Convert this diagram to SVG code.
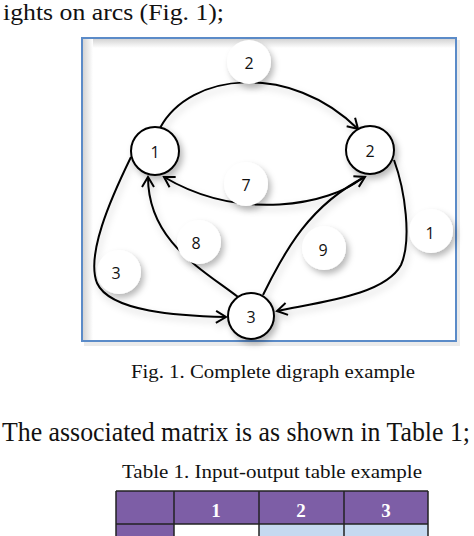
<svg xmlns="http://www.w3.org/2000/svg" width="474" height="536" viewBox="0 0 474 536">
<defs>
<style>
.body{font-family:"Liberation Serif","Times New Roman",serif;fill:#111}
.lbl{font-family:"Open Sans","Liberation Sans",sans-serif;font-size:16px;fill:#111;text-anchor:middle;dominant-baseline:central}
.node{fill:#fff;stroke:#000;stroke-width:2}
.wt{fill:#fff}
.edge{fill:none;stroke:#000;stroke-width:2}
.th{font-family:"Liberation Serif","Times New Roman",serif;font-weight:bold;font-size:19px;fill:#fff;text-anchor:middle}
.td{font-family:"Liberation Serif","Times New Roman",serif;font-weight:bold;font-size:19px;fill:#000;text-anchor:middle}
</style>
<filter id="sh" x="-40%" y="-40%" width="180%" height="180%">
<feDropShadow dx="3" dy="4" stdDeviation="3" flood-color="#000" flood-opacity="0.28"/>
</filter>
<filter id="esh" x="-20%" y="-20%" width="140%" height="140%">
<feDropShadow dx="2" dy="4" stdDeviation="3.5" flood-color="#000" flood-opacity="0.2"/>
</filter>
<marker id="arr" markerUnits="userSpaceOnUse" markerWidth="14" markerHeight="16" refX="11" refY="7" orient="auto" viewBox="0 0 14 14">
<path d="M1,1 L11,7 L1,13" fill="none" stroke="#000" stroke-width="2"/>
</marker>
<linearGradient id="gt" x1="0" y1="0" x2="0" y2="1"><stop offset="0" stop-color="#d4d4d4"/><stop offset="1" stop-color="#fff"/></linearGradient>
<linearGradient id="gl" x1="0" y1="0" x2="1" y2="0"><stop offset="0" stop-color="#d4d4d4"/><stop offset="1" stop-color="#fff"/></linearGradient>
</defs>
<rect width="474" height="536" fill="#fff"/>
<text class="body" x="3" y="20" font-size="24" textLength="221" lengthAdjust="spacingAndGlyphs">ights on arcs (Fig. 1);</text>

<g id="frame">
<rect x="84" y="40" width="376" height="306" fill="#e2e2e2" opacity="0.7"/>
<rect x="82" y="38" width="374" height="303" fill="#fff"/>
<rect x="83" y="39" width="372" height="9" fill="url(#gt)"/>
<rect x="83" y="39" width="10" height="301" fill="url(#gl)"/>
<rect x="82" y="38" width="374" height="303" fill="none" stroke="#5b8bc8" stroke-width="2"/>
</g>

<g id="connectors" filter="url(#esh)">
<path class="edge" d="M160,128 C190,72 290,62 358,129" marker-end="url(#arr)"/>
<path class="edge" d="M362,178 C330,205 240,222 164,177" marker-end="url(#arr)"/>
<path class="edge" d="M238,297 C200,268 148,240 148,177" marker-end="url(#arr)"/>
<path class="edge" d="M131,157 C110,200 86,255 97,283 C110,312 180,316 226,317" marker-end="url(#arr)"/>
<path class="edge" d="M263,295 C285,250 310,205 365,177" marker-end="url(#arr)"/>
<path class="edge" d="M394,160 C405,190 412,240 401,265 C385,295 320,302 277,311" marker-end="url(#arr)"/>
</g>

<g id="n1"><circle class="node" cx="155" cy="151" r="24" filter="url(#sh)"/><text class="lbl" x="155" y="152">1</text></g>
<g id="n2"><circle class="node" cx="370" cy="150" r="24" filter="url(#sh)"/><text class="lbl" x="370" y="151">2</text></g>
<g id="n3"><circle class="node" cx="251" cy="316" r="23" filter="url(#sh)"/><text class="lbl" x="251" y="317">3</text></g>

<g id="w2"><circle class="wt" cx="249" cy="62" r="22" filter="url(#sh)"/><text class="lbl" x="249" y="63">2</text></g>
<g id="w7"><circle class="wt" cx="246" cy="184" r="22" filter="url(#sh)"/><text class="lbl" x="246" y="185">7</text></g>
<g id="w8"><circle class="wt" cx="199" cy="242" r="22" filter="url(#sh)"/><text class="lbl" x="196" y="243">8</text></g>
<g id="w3"><circle class="wt" cx="119" cy="272" r="22" filter="url(#sh)"/><text class="lbl" x="116" y="273">3</text></g>
<g id="w9"><circle class="wt" cx="324" cy="248" r="22" filter="url(#sh)"/><text class="lbl" x="323" y="250">9</text></g>
<g id="w1"><circle class="wt" cx="431" cy="231" r="22" filter="url(#sh)"/><text class="lbl" x="430" y="233">1</text></g>

<text class="body" x="131" y="378" font-size="19" textLength="284" lengthAdjust="spacingAndGlyphs">Fig. 1. Complete digraph example</text>
<text class="body" x="2" y="441" font-size="27" textLength="468" lengthAdjust="spacingAndGlyphs">The associated matrix is as shown in Table 1;</text>
<text class="body" x="122" y="478" font-size="18" textLength="300" lengthAdjust="spacingAndGlyphs">Table 1. Input-output table example</text>

<g id="table">
<rect x="116" y="491" width="312" height="33" fill="#7d5ea6"/>
<rect x="116" y="524" width="58" height="14" fill="#7d5ea6"/>
<rect x="174" y="524" width="85" height="14" fill="#fff"/>
<rect x="259" y="524" width="169" height="14" fill="#c6d9f0"/>
<g stroke="#222" stroke-width="1.5">
<line x1="116" y1="491" x2="428" y2="491"/>
<line x1="116" y1="524" x2="428" y2="524"/>
<line x1="116" y1="491" x2="116" y2="536"/>
<line x1="174" y1="491" x2="174" y2="536"/>
<line x1="259" y1="491" x2="259" y2="536"/>
<line x1="344" y1="491" x2="344" y2="536"/>
<line x1="428" y1="491" x2="428" y2="536"/>
</g>
<text class="th" x="216" y="517">1</text>
<text class="th" x="301" y="517">2</text>
<text class="th" x="386" y="517">3</text>
<text class="th" x="145" y="549">1</text>
<text class="td" x="216" y="549">0</text>
<text class="td" x="301" y="549">2</text>
<text class="td" x="386" y="549">3</text>
</g>
</svg>
